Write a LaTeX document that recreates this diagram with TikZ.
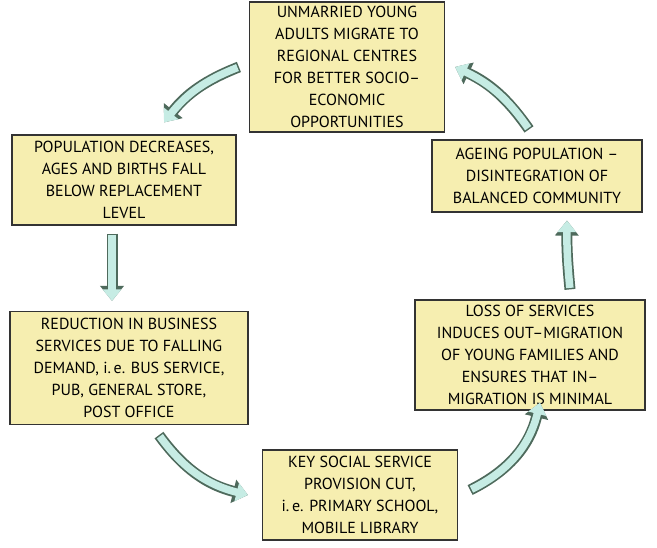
\documentclass[tikz,border=0pt]{standalone}
\usepackage{fontspec}
\setmainfont{PT Sans}
\usetikzlibrary{arrows.meta}

\definecolor{boxfill}{HTML}{F6EEB0}
\definecolor{arrowfill}{HTML}{C6ECE4}
\definecolor{arrowline}{HTML}{4E6A5C}

\tikzset{
  stagebox/.style={draw=black!80, fill=boxfill, line width=1.2pt, align=center,
    inner sep=0pt, font=\fontsize{16}{22}\selectfont},
  cyclearrow/.style={line width=11pt, draw=arrowline, -{Triangle[length=15pt,width=23pt]}},
  cycleinner/.style={line width=7.5pt, draw=arrowfill, shorten <=1.5pt, -{Triangle[length=11.5pt,width=18pt]}}
}

\begin{document}
\begin{tikzpicture}[x=1pt,y=-1pt]
\useasboundingbox[fill=white] (0,0) rectangle (657,548);

% stages of the cycle
\node[stagebox, minimum width=195, minimum height=130] (top) at (347,67)
  {UNMARRIED YOUNG\\ADULTS MIGRATE TO\\REGIONAL CENTRES\\FOR BETTER SOCIO--\\ECONOMIC\\OPPORTUNITIES};
\node[stagebox, minimum width=224, minimum height=90] (left) at (124,180)
  {POPULATION DECREASES,\\AGES AND BIRTHS FALL\\BELOW REPLACEMENT\\LEVEL};
\node[stagebox, minimum width=238, minimum height=113] (business) at (129,368)
  {REDUCTION IN BUSINESS\\SERVICES DUE TO FALLING\\DEMAND, i.\,e. BUS SERVICE,\\PUB, GENERAL STORE,\\POST OFFICE};
\node[stagebox, minimum width=195, minimum height=90] (social) at (360,495)
  {KEY SOCIAL SERVICE\\PROVISION CUT,\\i.\,e. PRIMARY SCHOOL,\\MOBILE LIBRARY};
\node[stagebox, minimum width=230, minimum height=110] (loss) at (530,355)
  {LOSS OF SERVICES\\INDUCES OUT--MIGRATION\\OF YOUNG FAMILIES AND\\ENSURES THAT IN--\\MIGRATION IS MINIMAL};
\node[stagebox, minimum width=210, minimum height=72] (ageing) at (537,176)
  {AGEING POPULATION --\\DISINTEGRATION OF\\BALANCED COMMUNITY};

% arrows
\foreach \s in {cyclearrow, cycleinner} {
  \draw[\s] ([shift={(-10,0)}]top.west) to[bend right=15] ([shift={(40,-12)}]left.north);
  \draw[\s] ([shift={(-12,8)}]left.south) -- ([shift={(-17,-10)}]business.north);
  \draw[\s] ([shift={(30,10)}]business.south) to[bend right=20] ([shift={(-14,0)}]social.west);
  \draw[\s] ([shift={(12,-5)}]social.east) to[bend right=25] ([shift={(10,-8)}]loss.south);
  \draw[\s] ([shift={(40,-10)}]loss.north) to[bend left=3] ([shift={(30,8)}]ageing.south);
  \draw[\s] ([shift={(-8,-10)}]ageing.north) to[bend right=15] ([shift={(10,0)}]top.east);
}
\end{tikzpicture}
\end{document}
